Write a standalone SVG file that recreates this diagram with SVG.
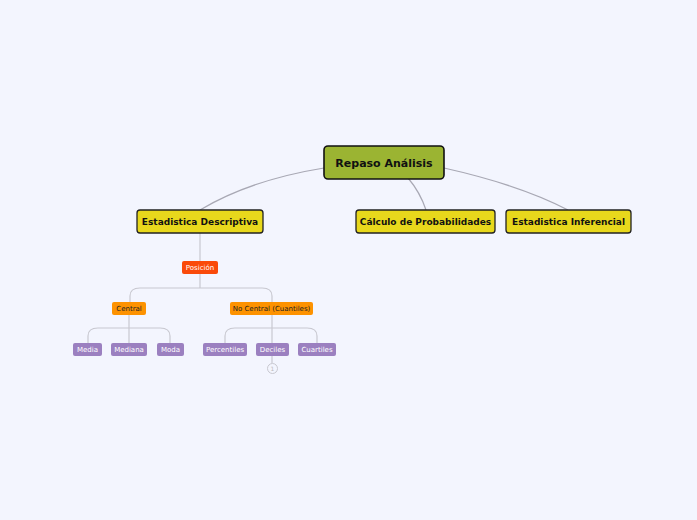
<svg xmlns="http://www.w3.org/2000/svg" width="697" height="520" viewBox="0 0 697 520">
<style>
text{font-family:"DejaVu Sans",Verdana,sans-serif;text-anchor:middle;dominant-baseline:central}
.l1{fill:#e8d81c;stroke:#222;stroke-width:1.3}
.t1{font-size:9px;font-weight:bold;fill:#111}
.leaf{fill:#9b80c0}
.tl{font-size:7px;fill:#fff}
.c{fill:none;stroke:#a8a8b4;stroke-width:1.2}
.c2{fill:none;stroke:#c8c8d0;stroke-width:1.2}
</style>
<rect width="697" height="520" fill="#f3f5fe"/>
<g id="connectors">
<path class="c" d="M324 168 Q250 180 200 210"/>
<path class="c" d="M408 178 Q420 192 426 210"/>
<path class="c" d="M444 168 Q520 185 568 210"/>
<path class="c2" d="M200 233 V261 M200 274 V288 M130 302 V296 Q130 288 140 288 H262 Q272 288 272 296 V302"/>
<path class="c2" d="M129 315 V343 M88 343 V336 Q88 328 98 328 H160 Q170 328 170 336 V343"/>
<path class="c2" d="M272 315 V343 M225 343 V336 Q225 328 235 328 H307 Q317 328 317 336 V343"/>
<path class="c2" d="M272 356 V363"/>
</g>
<g id="root"><rect x="324" y="146" width="120" height="33" rx="4" fill="#9bb432" stroke="#111" stroke-width="1.6"/><text x="384" y="163" font-size="11" font-weight="bold" fill="#111">Repaso Análisis</text></g>
<g id="ed"><rect class="l1" x="137" y="210" width="126" height="23" rx="3"/><text class="t1" x="200" y="222">Estadistica Descriptiva</text></g>
<g id="cp"><rect class="l1" x="356" y="210" width="139" height="23" rx="3"/><text class="t1" x="425.5" y="222">Cálculo de Probabilidades</text></g>
<g id="ei"><rect class="l1" x="506" y="210" width="125" height="23" rx="3"/><text class="t1" x="568.5" y="222">Estadistica Inferencial</text></g>
<g id="pos"><rect x="182" y="261" width="36" height="13" rx="2" fill="#fa4a0a"/><text x="200" y="268" font-size="7" fill="#fff">Posición</text></g>
<g id="central"><rect x="112" y="302" width="34" height="13" rx="2" fill="#fd9200"/><text x="129" y="309" font-size="7" fill="#222">Central</text></g>
<g id="nocentral"><rect x="230" y="302" width="83" height="13" rx="2" fill="#fd9200"/><text x="271.5" y="309" font-size="7" fill="#222">No Central (Cuantiles)</text></g>
<g id="media"><rect class="leaf" x="73" y="343" width="29" height="13" rx="2"/><text class="tl" x="87.5" y="350">Media</text></g>
<g id="mediana"><rect class="leaf" x="111" y="343" width="36" height="13" rx="2"/><text class="tl" x="129" y="350">Mediana</text></g>
<g id="moda"><rect class="leaf" x="157" y="343" width="27" height="13" rx="2"/><text class="tl" x="170.5" y="350">Moda</text></g>
<g id="percentiles"><rect class="leaf" x="203" y="343" width="44" height="13" rx="2"/><text class="tl" x="225" y="350">Percentiles</text></g>
<g id="deciles"><rect class="leaf" x="256" y="343" width="33" height="13" rx="2"/><text class="tl" x="272.5" y="350">Deciles</text></g>
<g id="cuartiles"><rect class="leaf" x="298" y="343" width="38" height="13" rx="2"/><text class="tl" x="317" y="350">Cuartiles</text></g>
<g id="badge"><circle cx="272.5" cy="368.5" r="5" fill="#f3f5fe" stroke="#c8c8d0"/><text x="272.5" y="368.5" font-size="6" fill="#bbb">1</text></g>
</svg>
